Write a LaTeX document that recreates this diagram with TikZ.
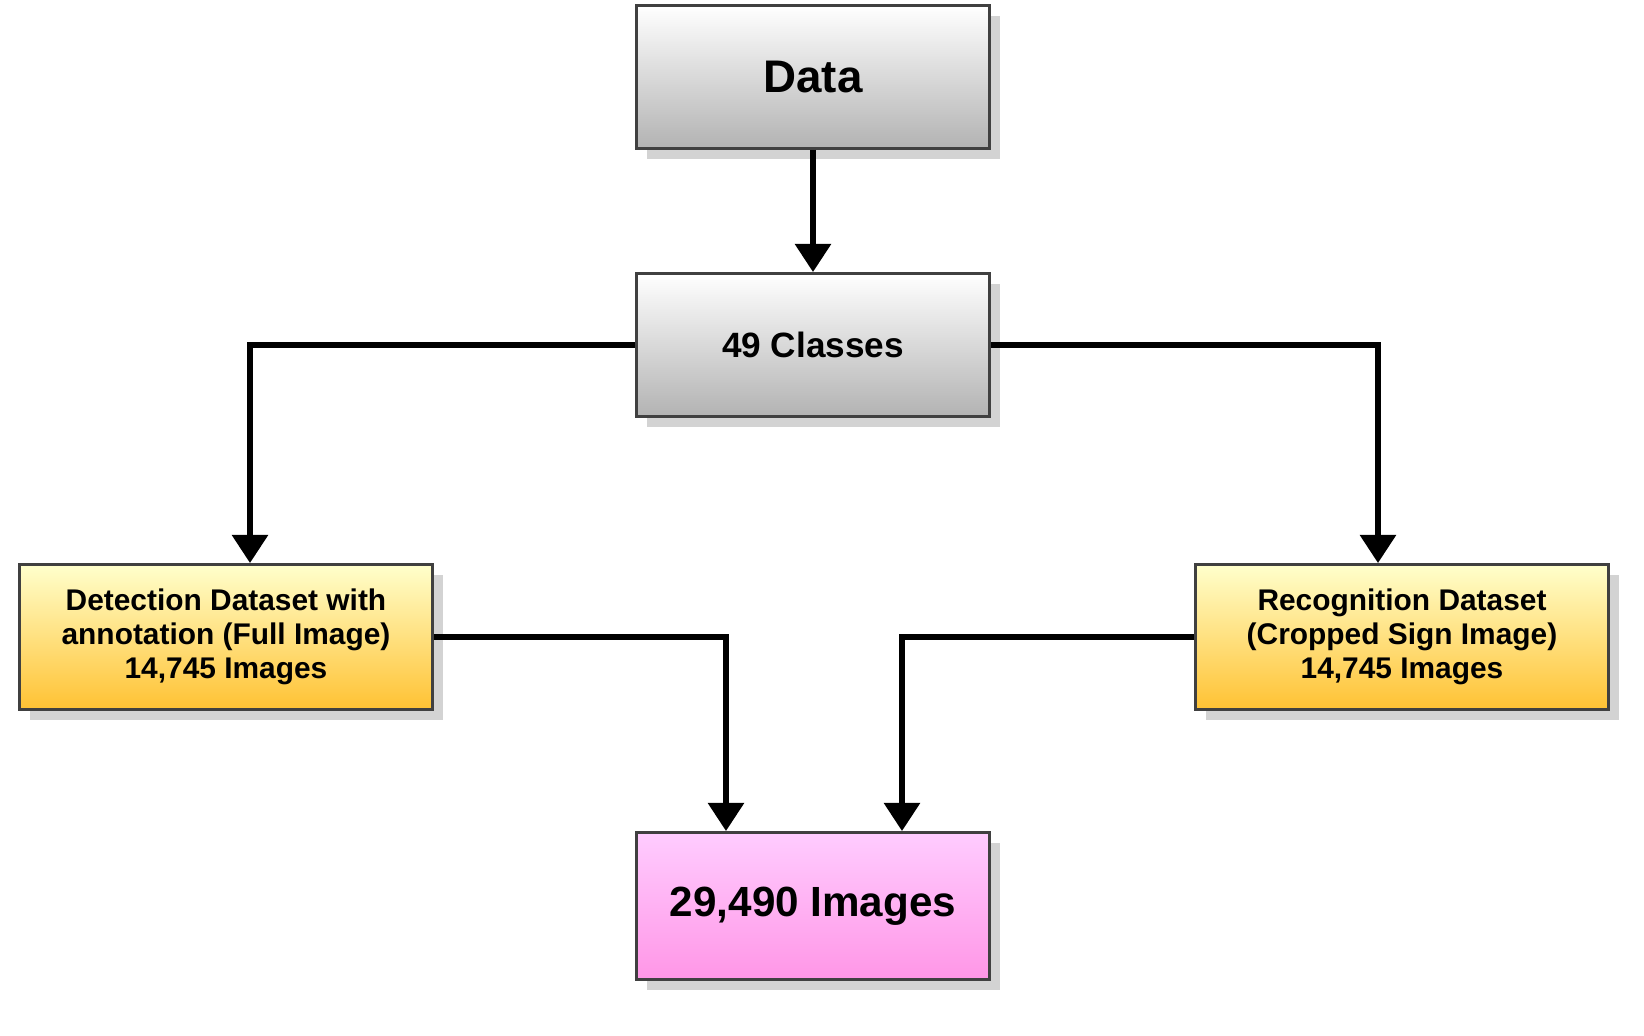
\documentclass[tikz,border=0pt]{standalone}
\usepackage{fontspec}
\setmainfont{Liberation Sans}
\usetikzlibrary{shadows,arrows.meta}
\begin{document}
\begin{tikzpicture}[x=0.01cm,y=-0.01cm,
 box/.style={draw=black!75,line width=0.8pt,minimum width=3.53cm,minimum height=1.43cm,align=center,inner sep=0pt,drop shadow={shadow xshift=3pt,shadow yshift=-3pt,opacity=0.35}},
 gray/.style={box,top color=white,bottom color=black!30},
 yel/.style={box,minimum width=4.12cm,minimum height=1.45cm,top color=yellow!20!white,bottom color=orange!60!yellow!80,font=\bfseries\fontsize{8.5}{9.6}\selectfont},
 pink/.style={box,minimum height=1.47cm,top color=magenta!20!white,bottom color=magenta!45!pink!70!white},
 arr/.style={line width=1.6pt,-{Triangle[length=8pt,width=10pt]}}]
\useasboundingbox (0,0) rectangle (1644,1036);
\node[gray,font=\bfseries\fontsize{13}{15}\selectfont] (data) at (813,77) {Data};
\node[gray,font=\bfseries\fontsize{10}{12}\selectfont] (cls) at (813,345) {49 Classes};
\node[yel] (det) at (226,637) {Detection Dataset with\\annotation (Full Image)\\14,745 Images};
\node[yel] (rec) at (1402,637) {Recognition Dataset\\(Cropped Sign Image)\\14,745 Images};
\node[pink,font=\bfseries\fontsize{12}{14}\selectfont] (img) at (813,906) {29,490 Images};
\coordinate (cl) at (250,345);
\coordinate (cr) at (1378,345);
\coordinate (dr) at (726,637);
\coordinate (rl) at (902,637);
\draw[arr] (data) -- (cls);
\draw[arr] (cls.west) -- (cl) -- (cl |- det.north);
\draw[arr] (cls.east) -- (cr) -- (cr |- rec.north);
\draw[arr] (det.east) -- (dr) -- (dr |- img.north);
\draw[arr] (rec.west) -- (rl) -- (rl |- img.north);
\end{tikzpicture}
\end{document}
